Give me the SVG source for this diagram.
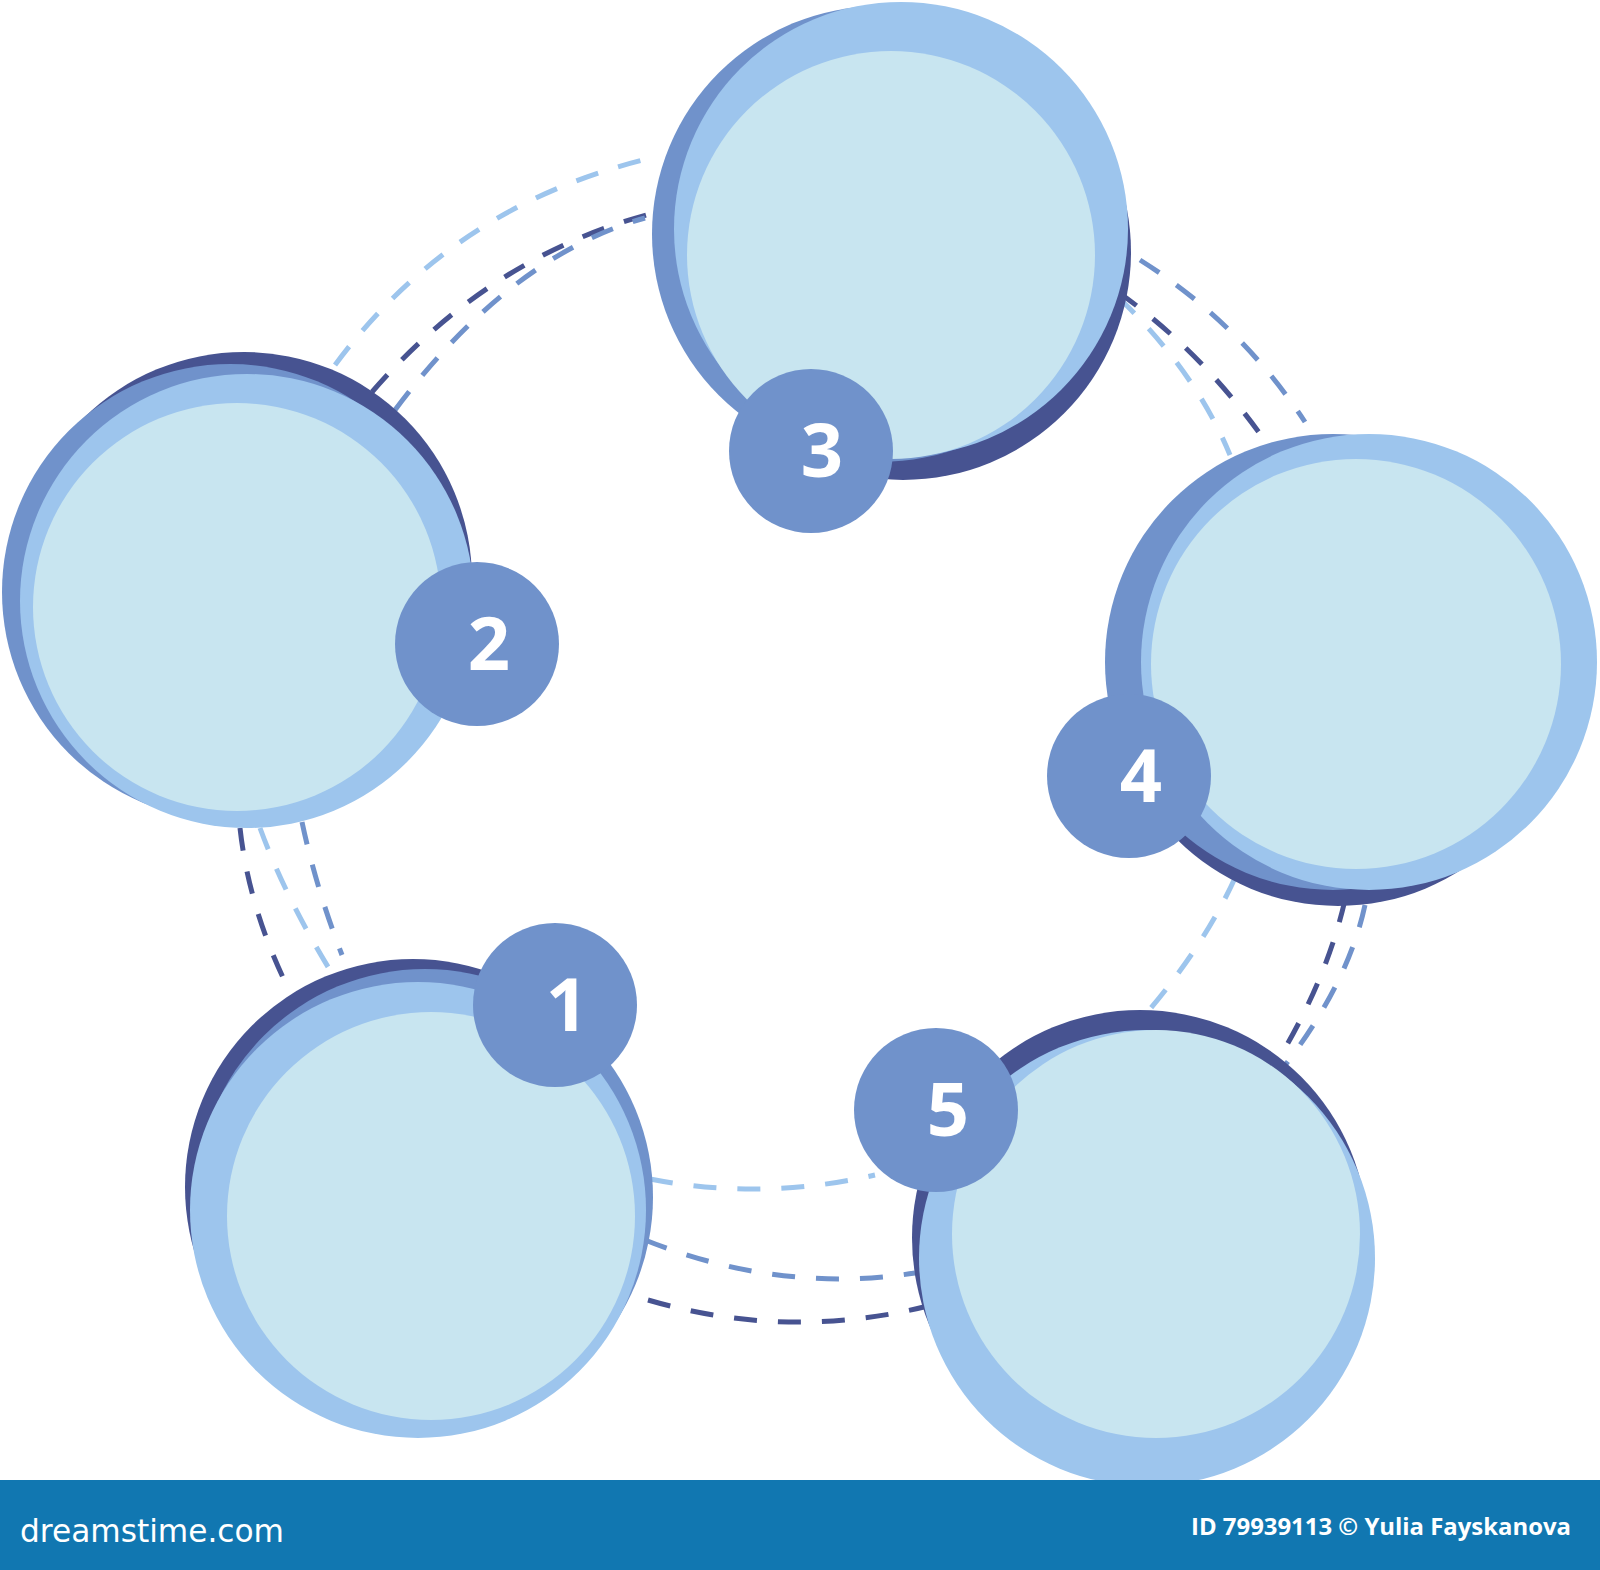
<svg xmlns="http://www.w3.org/2000/svg" width="1600" height="1570" viewBox="0 0 1600 1570">
<style>
.navy{fill:#475391}
.mid{fill:#7092cb}
.light{fill:#9dc5ed}
.pale{fill:#c8e5f0}
.badge{fill:#7092cb}
.num{fill:#ffffff;font-family:"Open Sans","DejaVu Sans",sans-serif;font-weight:700;font-size:74px;text-anchor:middle}
.dash{fill:none;stroke-width:5;stroke-dasharray:23 21}
.dn{stroke:#475391}
.dm{stroke:#7092cb}
.dl{stroke:#9dc5ed}
</style>
<rect x="0" y="0" width="1600" height="1570" fill="#ffffff"/>
<g id="connectors">
  <path class="dash dl" d="M335,365 Q451,208 643,160"/>
  <path class="dash dn" d="M372,392 Q489,257 650,214"/>
  <path class="dash dm" d="M395,410 Q510,256 645,218"/>
  <path class="dash dm" d="M1140,260 Q1240,323 1305,422"/>
  <path class="dash dn" d="M1118,292 Q1203,352 1268,445"/>
  <path class="dash dl" d="M1118,297 Q1196,372 1230,455"/>
  <path class="dash dn" d="M1345,900 Q1326,982 1275,1065"/>
  <path class="dash dm" d="M1365,905 Q1348,984 1283,1068"/>
  <path class="dash dl" d="M1235,878 Q1204,946 1145,1015"/>
  <path class="dash dl" d="M650,1179 Q762,1201 875,1175"/>
  <path class="dash dm" d="M645,1240 Q780,1294 915,1273"/>
  <path class="dash dn" d="M648,1300 Q788,1341 928,1306"/>
  <path class="dash dn" d="M240,828 Q249,910 290,992"/>
  <path class="dash dl" d="M260,828 Q286,899 333,975"/>
  <path class="dash dm" d="M302,822 Q316,888 342,955"/>
</g>
<g id="node1">
  <circle class="navy" cx="413" cy="1187" r="228"/>
  <circle class="mid" cx="425" cy="1197" r="228"/>
  <circle class="light" cx="418" cy="1210" r="228"/>
  <circle class="pale" cx="431" cy="1216" r="204"/>
  <circle class="badge" cx="555" cy="1005" r="82"/>
  <text class="num" x="567" y="1031">1</text>
</g>
<g id="node2">
  <circle class="navy" cx="244" cy="580" r="228"/>
  <circle class="mid" cx="230" cy="592" r="228"/>
  <circle class="light" cx="247" cy="601" r="227"/>
  <circle class="pale" cx="237" cy="607" r="204"/>
  <circle class="badge" cx="477" cy="644" r="82"/>
  <text class="num" x="489" y="670">2</text>
</g>
<g id="node3">
  <circle class="navy" cx="903" cy="252" r="228"/>
  <circle class="mid" cx="880" cy="234" r="228"/>
  <circle class="light" cx="901" cy="229" r="227"/>
  <circle class="pale" cx="891" cy="255" r="204"/>
  <circle class="badge" cx="811" cy="451" r="82"/>
  <text class="num" x="822" y="477">3</text>
</g>
<g id="node4">
  <circle class="navy" cx="1338" cy="678" r="228"/>
  <circle class="mid" cx="1333" cy="662" r="228"/>
  <circle class="light" cx="1369" cy="662" r="228"/>
  <circle class="pale" cx="1356" cy="664" r="205"/>
  <circle class="badge" cx="1129" cy="776" r="82"/>
  <text class="num" x="1141" y="802">4</text>
</g>
<g id="node5">
  <circle class="navy" cx="1140" cy="1238" r="228"/>
  <circle class="light" cx="1147" cy="1258" r="228"/>
  <circle class="pale" cx="1156" cy="1234" r="204"/>
  <circle class="badge" cx="936" cy="1110" r="82"/>
  <text class="num" x="948" y="1136">5</text>
</g>
<g id="banner">
  <rect x="0" y="1480" width="1600" height="90" fill="#1177b1"/>
  <text x="20" y="1542" fill="#ffffff" font-family="'DejaVu Sans',sans-serif" font-size="32" textLength="264" lengthAdjust="spacingAndGlyphs">dreamstime.com</text>
  <text x="1571" y="1535" fill="#ffffff" font-family="'Open Sans','Liberation Sans',sans-serif" font-weight="700" font-size="24" text-anchor="end" textLength="380" lengthAdjust="spacingAndGlyphs">ID 79939113 © Yulia Fayskanova</text>
</g>
</svg>
